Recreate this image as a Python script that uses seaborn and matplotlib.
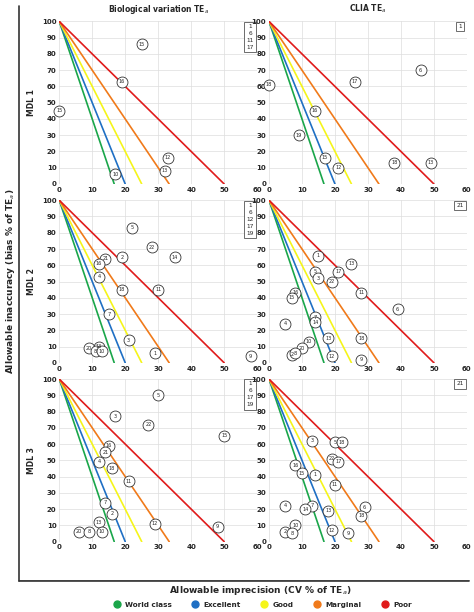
import numpy as np
import pandas as pd
import matplotlib
matplotlib.use("Agg")
import matplotlib.pyplot as plt
import seaborn as sns
from matplotlib.lines import Line2D

# sigma lines: bias = 100 - sigma * CV
sigma_names = ["World class", "Excellent", "Good", "Marginal", "Poor"]
sigma_values = [6, 5, 4, 3, 2]
sigma_colors = ["#1aa64a", "#1f6fc4", "#f5f51a", "#f07a1a", "#e01b1b"]

col_titles = ["Biological variation TE$_a$", "CLIA TE$_a$"]
row_titles = ["MDL 1", "MDL 2", "MDL 3"]

# (cv, bias, label) per panel
mdl1_bio_x = [25, 19, 0, 33, 32, 17]
mdl1_bio_y = [86, 63, 45, 16, 8, 6]
mdl1_bio_lab = ["15", "16", "15", "12", "13", "10"]
mdl1_bio_box = ["1", "6", "11", "17"]

mdl1_clia_x = [46, 26, 0, 14, 9, 17, 21, 38, 49]
mdl1_clia_y = [70, 63, 61, 45, 30, 16, 10, 13, 13]
mdl1_clia_lab = ["6", "17", "18", "16", "19", "15", "12", "18", "13"]
mdl1_clia_box = ["1"]

mdl2_bio_x = [22, 28, 35, 19, 14, 12, 12, 19, 30, 15, 21, 29, 58, 9, 12, 11, 13]
mdl2_bio_y = [83, 71, 65, 65, 64, 61, 53, 45, 45, 30, 14, 6, 4, 9, 10, 7, 7]
mdl2_bio_lab = ["5", "22", "14", "2", "21", "16", "4", "18", "11", "7", "3", "1", "9", "20", "13", "8", "10"]
mdl2_bio_box = ["1", "6", "12", "17", "19"]

mdl2_clia_x = [15, 25, 14, 21, 15, 19, 28, 39, 8, 7, 14, 14, 5, 18, 28, 12, 10, 7, 8, 19, 28]
mdl2_clia_y = [66, 61, 56, 56, 52, 50, 43, 33, 43, 40, 28, 25, 24, 15, 15, 13, 9, 5, 6, 4, 2]
mdl2_clia_lab = ["1", "13", "5", "17", "3", "22", "11", "6", "16", "15", "7", "14", "4", "13", "18", "10", "20", "2", "8", "12", "9"]
mdl2_clia_box = ["21"]

mdl3_bio_x = [30, 17, 27, 50, 15, 14, 12, 16, 21, 14, 16, 12, 29, 48, 6, 9, 13]
mdl3_bio_y = [90, 77, 72, 65, 59, 55, 49, 45, 37, 24, 17, 12, 11, 9, 6, 6, 6]
mdl3_bio_lab = ["5", "3", "22", "15", "16", "21", "4", "18", "11", "7", "2", "13", "12", "9", "20", "8", "10"]
mdl3_bio_box = ["1", "6", "17", "19"]

mdl3_clia_x = [13, 20, 22, 19, 21, 8, 10, 14, 20, 5, 13, 11, 18, 29, 28, 8, 5, 7, 19, 24]
mdl3_clia_y = [62, 61, 61, 51, 49, 47, 42, 41, 35, 22, 22, 20, 19, 21, 16, 10, 6, 5, 7, 5]
mdl3_clia_lab = ["3", "5", "18", "22", "17", "16", "15", "1", "11", "4", "7", "14", "13", "6", "18", "10", "2", "8", "12", "9"]
mdl3_clia_box = ["21"]

panels = [
    [(mdl1_bio_x, mdl1_bio_y, mdl1_bio_lab, mdl1_bio_box), (mdl1_clia_x, mdl1_clia_y, mdl1_clia_lab, mdl1_clia_box)],
    [(mdl2_bio_x, mdl2_bio_y, mdl2_bio_lab, mdl2_bio_box), (mdl2_clia_x, mdl2_clia_y, mdl2_clia_lab, mdl2_clia_box)],
    [(mdl3_bio_x, mdl3_bio_y, mdl3_bio_lab, mdl3_bio_box), (mdl3_clia_x, mdl3_clia_y, mdl3_clia_lab, mdl3_clia_box)],
]

sns.set_theme(style="white")
plt.rcParams["font.family"] = ["DejaVu Sans"]

fig, axes = plt.subplots(3, 2, figsize=(4.74, 6.12), dpi=100)
plt.subplots_adjust(left=0.125, right=0.985, top=0.965, bottom=0.115, wspace=0.06, hspace=0.1)

# line table
rows = []
for name, s in zip(sigma_names, sigma_values):
    rows.append({"sigma": name, "cv": 0, "bias": 100})
    rows.append({"sigma": name, "cv": 100 / s, "bias": 0})
lines_df = pd.DataFrame(rows)

for r in range(3):
    for c in range(2):
        ax = axes[r, c]
        xs, ys, labs, box = panels[r][c]
        ax.grid(True, color="#dddddd", linewidth=0.5)
        ax.set_axisbelow(True)
        sns.lineplot(data=lines_df, x="cv", y="bias", hue="sigma", palette=sigma_colors,
                     hue_order=sigma_names, ax=ax, legend=False, linewidth=1.2)
        df = pd.DataFrame({"cv": xs, "bias": ys, "lab": labs})
        sns.scatterplot(data=df, x="cv", y="bias", ax=ax, s=62, color="white",
                        edgecolor="#333333", linewidth=0.6, zorder=5, clip_on=False)
        for _, row in df.iterrows():
            ax.text(row.cv, row.bias, row.lab, fontsize=3.6, ha="center", va="center", zorder=6)
        # boxed stack of off-scale items in top right corner
        stack = "\n".join(box)
        ax.text(0.965, 0.985, stack, transform=ax.transAxes, ha="center", va="top",
                fontsize=4.2, linespacing=1.5,
                bbox=dict(boxstyle="square,pad=0.35", facecolor="white", edgecolor="#555555", linewidth=0.6))
        ax.set_xlim(0, 60)
        ax.set_ylim(0, 100)
        ax.set_xticks(range(0, 61, 10))
        ax.set_yticks(range(0, 101, 10))
        ax.tick_params(labelsize=5, length=0, pad=2)
        for lbl in ax.get_xticklabels() + ax.get_yticklabels():
            lbl.set_fontweight("bold")
        for sp in ax.spines.values():
            sp.set_visible(False)
        ax.set_xlabel("")
        ax.set_ylabel(row_titles[r] if c == 0 else "", fontsize=5.5, fontweight="bold", labelpad=4)
        if r == 0:
            ax.set_title(col_titles[c], fontsize=5.5, fontweight="bold", pad=7)

# outer frame
fig.add_artist(Line2D([0.04, 0.04], [0.05, 0.99], color="#333333", linewidth=1.2))
fig.add_artist(Line2D([0.04, 0.99], [0.05, 0.05], color="#333333", linewidth=1.2))
fig.add_artist(Line2D([0.04, 0.99], [0.052, 0.052], color="#333333", linewidth=0.4))

fig.text(0.022, 0.54, "Allowable inaccuracy (bias % of TE$_a$)", rotation=90, ha="center",
         va="center", fontsize=6.5, fontweight="bold")
fig.text(0.55, 0.035, "Allowable imprecision (CV % of TE$_a$)", ha="center", va="center",
         fontsize=6.5, fontweight="bold")

handles = [Line2D([0], [0], marker="o", color="none", markerfacecolor=col, markeredgecolor=col,
                  markersize=5) for col in sigma_colors]
fig.legend(handles, sigma_names, loc="center", bbox_to_anchor=(0.55, 0.012), ncol=5,
           frameon=False, fontsize=5.2, handletextpad=0.2, columnspacing=2.2,
           prop={"weight": "bold", "size": 5.2})

fig.savefig("out.png", dpi=100)
